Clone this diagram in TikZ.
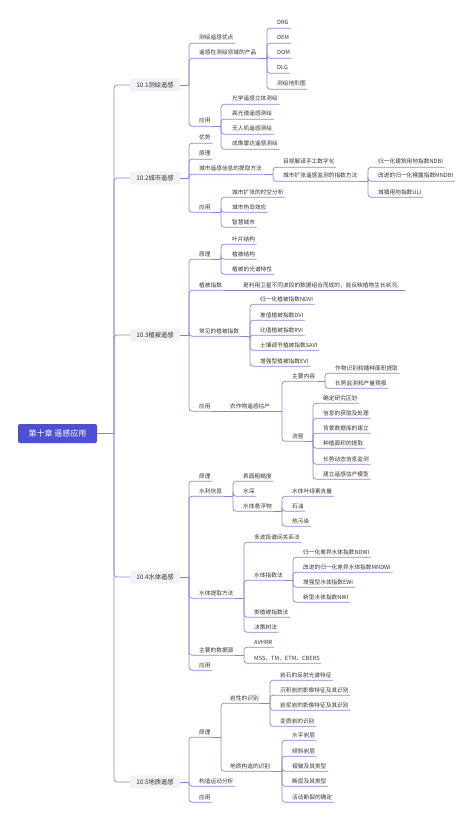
\documentclass[tikz,border=0pt]{standalone}
\usepackage{fontspec}
\setmainfont{Noto Sans CJK SC}
\usepackage{xcolor}
\definecolor{linec}{RGB}{140,130,226}
\definecolor{rootc}{RGB}{78,80,212}
\definecolor{secc}{RGB}{242,242,246}
\definecolor{textc}{RGB}{51,51,51}
\tikzset{
  link/.style={draw=linec, line width=0.7pt, rounded corners=3pt},
  leaf/.style={anchor=west, inner xsep=1.5pt, inner ysep=2pt, text height=5pt, text depth=1pt, text=textc, font=\fontsize{5.7}{6}\selectfont},
  sec/.style={fill=secc, rounded corners=2pt, minimum width=50pt, minimum height=13pt, inner sep=1pt, text=textc, font=\fontsize{6.3}{7}\selectfont},
  root/.style={fill=rootc, rounded corners=2pt, minimum width=79pt, minimum height=19pt, inner sep=1pt, text=white, font=\fontsize{8}{9}\selectfont}
}
\begin{document}
\begin{tikzpicture}[x=1pt, y=-1pt]
    \useasboundingbox (0,0) rectangle (474,821);
    \node[root] (root) at (57.5,433.5) {第十章 遥感应用};
    \node[sec] (s1) at (155,85) {10.1测绘遥感};
    \node[sec] (s2) at (155,178) {10.2城市遥感};
    \node[sec] (s3) at (155,335) {10.3植被遥感};
    \node[sec] (s4) at (155,577) {10.4水体遥感};
    \node[sec] (s5) at (155,782) {10.5地质遥感};

    \coordinate (m) at (114,433.5);
    \draw[link] (root.east) -- (m);
    \foreach \i in {1,...,5} \draw[link] (m) |- (s\i.west);
    \foreach \i in {1,...,5} {
        \coordinate (j\i) at (s\i.east -| 189,0);
        \draw[link] (s\i.east) -- (j\i);
    }

    % 10.1
    \foreach \t/\y [count=\i] in {测绘遥感优点/38, 遥感在测绘领域的产品/53, 应用/121}
        {\node[leaf] (a\i) at (197.5,\y) {\t}; \draw[link] (j1) |- (a\i.south east);}
    \coordinate (ja2) at (a2.south -| 267,0);
    \draw[link] (a2.south east) -- (ja2);
    \foreach \t/\y [count=\i] in {DRG/23, DEM/38, DOM/53, DLG/68, 测绘地形图/84}
        {\node[leaf] (a2-\i) at (275.5,\y) {\t}; \draw[link] (ja2) |- (a2-\i.south east);}
    \coordinate (ja3) at (a3.south -| 221,0);
    \draw[link] (a3.south east) -- (ja3);
    \foreach \t/\y [count=\i] in {光学遥感立体测绘/99, 高光谱遥感测绘/114, 无人机遥感测绘/129, 成像雷达遥感测绘/144}
        {\node[leaf] (a3-\i) at (230.5,\y) {\t}; \draw[link] (ja3) |- (a3-\i.south east);}

    % 10.2
    \foreach \t/\y [count=\i] in {优势/138, 原理/154, 城市遥感信息的提取方法/169, 应用/207}
        {\node[leaf] (b\i) at (197.5,\y) {\t}; \draw[link] (j2) |- (b\i.south east);}
    \coordinate (jb3) at (b3.south -| 273,0);
    \draw[link] (b3.south east) -- (jb3);
    \foreach \t/\y [count=\i] in {目视解译手工数字化/162, 城市扩张遥感监测的指数方法/176}
        {\node[leaf] (b3-\i) at (281.5,\y) {\t}; \draw[link] (jb3) |- (b3-\i.south east);}
    \coordinate (jb32) at (b3-2.south -| 368,0);
    \draw[link] (b3-2.south east) -- (jb32);
    \foreach \t/\y [count=\i] in {归一化建筑用地指数NDBI/162, 改进的归一化裸露指数MNDBI/176, 城镇用地指数ULI/192}
        {\node[leaf] (b32-\i) at (376.5,\y) {\t}; \draw[link] (jb32) |- (b32-\i.south east);}
    \coordinate (jb4) at (b4.south -| 221,0);
    \draw[link] (b4.south east) -- (jb4);
    \foreach \t/\y [count=\i] in {城市扩张的时空分析/192, 城市热岛效应/207, 智慧城市/222}
        {\node[leaf] (b4-\i) at (230.5,\y) {\t}; \draw[link] (jb4) |- (b4-\i.south east);}

    % 10.3
    \foreach \t/\y [count=\i] in {原理/254, 植被指数/285, 常见的植被指数/331, 应用/406}
        {\node[leaf] (c\i) at (197.5,\y) {\t}; \draw[link] (j3) |- (c\i.south east);}
    \coordinate (jc1) at (c1.south -| 221,0);
    \draw[link] (c1.south east) -- (jc1);
    \foreach \t/\y [count=\i] in {叶片结构/239, 植被结构/254, 植被的光谱特性/269}
        {\node[leaf] (c1-\i) at (230.5,\y) {\t}; \draw[link] (jc1) |- (c1-\i.south east);}
    \node[leaf] (c2-1) at (241.5,285) {是利用卫星不同波段的数据组合而成的，能反映植物生长状况。};
    \draw[link] (c2.south east) -- (c2-1.south east);
    \coordinate (jc3) at (c3.south -| 250,0);
    \draw[link] (c3.south east) -- (jc3);
    \foreach \t/\y [count=\i] in {归一化植被指数NDVI/299, 差值植被指数DVI/315, 比值植被指数RVI/330, 土壤调节植被指数SAVI/345, 增强型植被指数EVI/361}
        {\node[leaf] (c3-\i) at (258.5,\y) {\t}; \draw[link] (jc3) |- (c3-\i.south east);}
    \node[leaf] (crop) at (228.5,406) {农作物遥感估产};
    \draw[link] (c4.south east) -- (crop.south east);
    \coordinate (jcrop) at (crop.south -| 282,0);
    \draw[link] (crop.south east) -- (jcrop);
    \foreach \t/\y [count=\i] in {主要内容/376, 流程/436}
        {\node[leaf] (cr\i) at (290.5,\y) {\t}; \draw[link] (jcrop) |- (cr\i.south east);}
    \coordinate (jcr1) at (cr1.south -| 325,0);
    \draw[link] (cr1.south east) -- (jcr1);
    \foreach \t/\y [count=\i] in {作物识别和播种面积提取/368, 长势监测和产量预报/383}
        {\node[leaf] (cr1-\i) at (333.5,\y) {\t}; \draw[link] (jcr1) |- (cr1-\i.south east);}
    \coordinate (jcr2) at (cr2.south -| 313,0);
    \draw[link] (cr2.south east) -- (jcr2);
    \foreach \t/\y [count=\i] in {确定研究区划/398, 信息的获取及处理/413, 背景数据库的建立/428, 种植面积的提取/443, 长势动态信息监测/459, 建立遥感估产模型/474}
        {\node[leaf] (cr2-\i) at (321.5,\y) {\t}; \draw[link] (jcr2) |- (cr2-\i.south east);}

    % 10.4
    \foreach \t/\y [count=\i] in {原理/476, 水利信息/491, 水体提取方法/593, 主要的数据源/650, 应用/665}
        {\node[leaf] (d\i) at (197.5,\y) {\t}; \draw[link] (j4) |- (d\i.south east);}
    \coordinate (jd2) at (d2.south -| 233,0);
    \draw[link] (d2.south east) -- (jd2);
    \foreach \t/\y [count=\i] in {表面粗糙度/476, 水深/491, 水体悬浮物/506}
        {\node[leaf] (d2-\i) at (241.5,\y) {\t}; \draw[link] (jd2) |- (d2-\i.south east);}
    \coordinate (jd23) at (d2-3.south -| 282,0);
    \draw[link] (d2-3.south east) -- (jd23);
    \foreach \t/\y [count=\i] in {水体叶绿素含量/491, 石油/506, 热污染/521}
        {\node[leaf] (d23-\i) at (290.5,\y) {\t}; \draw[link] (jd23) |- (d23-\i.south east);}
    \coordinate (jd3) at (d3.south -| 244,0);
    \draw[link] (d3.south east) -- (jd3);
    \foreach \t/\y [count=\i] in {多波段谱间关系法/537, 水体指数法/575, 类植被指数法/612, 决策树法/627}
        {\node[leaf] (d3-\i) at (252.5,\y) {\t}; \draw[link] (jd3) |- (d3-\i.south east);}
    \coordinate (jd32) at (d3-2.south -| 293,0);
    \draw[link] (d3-2.south east) -- (jd32);
    \foreach \t/\y [count=\i] in {归一化差异水体指数NDWI/552, 改进的归一化差异水体指数MNDWI/567, 增强型水体指数EWI/582, 新型水体指数NWI/597}
        {\node[leaf] (d32-\i) at (301.5,\y) {\t}; \draw[link] (jd32) |- (d32-\i.south east);}
    \coordinate (jd4) at (d4.south -| 244,0);
    \draw[link] (d4.south east) -- (jd4);
    \foreach \t/\y [count=\i] in {AVHRR/642, MSS、TM、ETM、CBERS/658}
        {\node[leaf] (d4-\i) at (252.5,\y) {\t}; \draw[link] (jd4) |- (d4-\i.south east);}

    % 10.5
    \foreach \t/\y [count=\i] in {原理/732, 构造运动分析/781, 应用/797}
        {\node[leaf] (e\i) at (197.5,\y) {\t}; \draw[link] (j5) |- (e\i.south east);}
    \coordinate (je1) at (e1.south -| 221,0);
    \draw[link] (e1.south east) -- (je1);
    \foreach \t/\y [count=\i] in {岩性的识别/698, 地质构造的识别/766}
        {\node[leaf] (e1-\i) at (228.5,\y) {\t}; \draw[link] (je1) |- (e1-\i.south east);}
    \coordinate (je11) at (e1-1.south -| 270,0);
    \draw[link] (e1-1.south east) -- (je11);
    \foreach \t/\y [count=\i] in {岩石的反射光谱特征/675, 沉积岩的影像特征及其识别/690, 岩浆岩的影像特征及其识别/705, 变质岩的识别/721}
        {\node[leaf] (e11-\i) at (278.5,\y) {\t}; \draw[link] (je11) |- (e11-\i.south east);}
    \coordinate (je12) at (e1-2.south -| 282,0);
    \draw[link] (e1-2.south east) -- (je12);
    \foreach \t/\y [count=\i] in {水平岩层/735, 倾斜岩层/751, 褶皱及其类型/766, 断层及其类型/781, 活动断裂的确定/797}
        {\node[leaf] (e12-\i) at (290.5,\y) {\t}; \draw[link] (je12) |- (e12-\i.south east);}
\end{tikzpicture}
\end{document}
